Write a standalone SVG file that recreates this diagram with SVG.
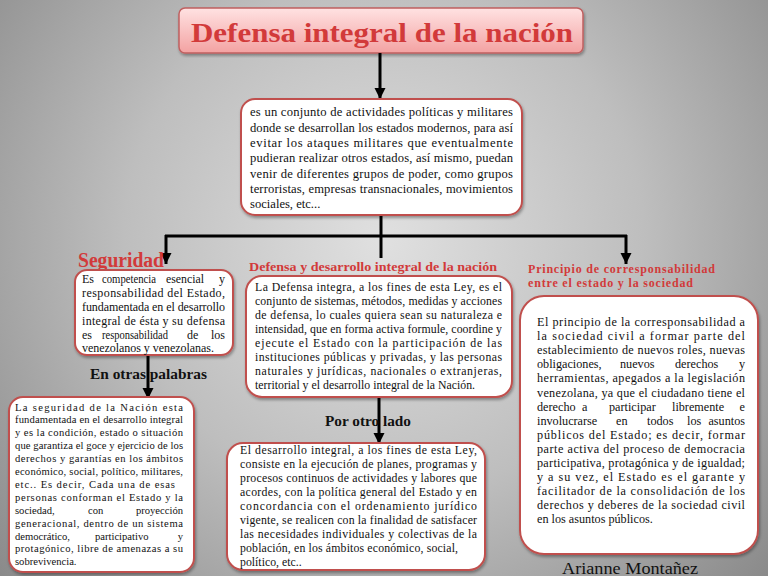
<svg xmlns="http://www.w3.org/2000/svg" width="768" height="576" viewBox="0 0 768 576">
<defs>
<radialGradient id="bg" cx="384" cy="240" r="520" gradientUnits="userSpaceOnUse">
<stop offset="0" stop-color="#e0e0e0"/>
<stop offset="0.5" stop-color="#bebebe"/>
<stop offset="1" stop-color="#888888"/>
</radialGradient>
<linearGradient id="tg" x1="0" y1="0" x2="0" y2="1">
<stop offset="0" stop-color="#ffe2e2"/>
<stop offset="1" stop-color="#f3a2a2"/>
</linearGradient>
<filter id="sh" x="-10%" y="-10%" width="120%" height="120%">
<feDropShadow dx="1" dy="2" stdDeviation="1.5" flood-color="#000" flood-opacity="0.35"/>
</filter>
<marker id="ah" markerUnits="userSpaceOnUse" markerWidth="12" markerHeight="12" viewBox="0 0 12 12" refX="11" refY="6" orient="auto">
<path d="M0,0.5 L11,6 L0,11.5 z" fill="#000"/>
</marker>
<style>
.box{fill:#fff;stroke:#c0504d;stroke-width:2;filter:url(#sh)}
.t{font-family:"Liberation Serif","Times New Roman",serif;fill:#111}
.lbl{font-family:"Liberation Serif","Times New Roman",serif;font-weight:bold;fill:#d23a3a}
.blk{font-family:"Liberation Serif","Times New Roman",serif;font-weight:bold;fill:#111}
.c{stroke:#000;stroke-width:3;fill:none}
</style>
</defs>
<rect width="768" height="576" fill="url(#bg)"/>

<g id="title">
<rect x="179" y="8" width="404" height="45" rx="6" fill="url(#tg)" stroke="#c06060" stroke-width="1.5" filter="url(#sh)"/>
<text class="lbl" x="191" y="42" font-size="28" textLength="382" lengthAdjust="spacingAndGlyphs" fill="#cc2b2b">Defensa integral de la nación</text>
</g>

<g id="connectors">
<line class="c" x1="380" y1="53" x2="380" y2="99" marker-end="url(#ah)"/>
<line class="c" x1="381" y1="215" x2="381" y2="258"/>
<line class="c" x1="165" y1="236" x2="627" y2="236"/>
<line class="c" x1="166" y1="235" x2="166" y2="264" marker-end="url(#ah)"/>
<line class="c" x1="626" y1="235" x2="626" y2="264" marker-end="url(#ah)"/>
<line class="c" x1="148" y1="355" x2="148" y2="399" marker-end="url(#ah)"/>
<line class="c" x1="379" y1="397" x2="379" y2="444" marker-end="url(#ah)"/>
</g>

<g id="definicion">
<rect class="box" x="241" y="99" width="281" height="116" rx="14"/>
<g class="t" font-size="12.6">
<text x="250" y="116" textLength="263" lengthAdjust="spacing">es un conjunto de actividades políticas y militares</text>
<text x="250" y="131.5" textLength="263" lengthAdjust="spacing">donde se desarrollan los estados modernos, para así</text>
<text x="250" y="147" textLength="263" lengthAdjust="spacing">evitar los ataques militares que eventualmente</text>
<text x="250" y="162" textLength="263" lengthAdjust="spacing">pudieran realizar otros estados, así mismo, puedan</text>
<text x="250" y="177.5" textLength="263" lengthAdjust="spacing">venir de diferentes grupos de poder, como grupos</text>
<text x="250" y="193" textLength="263" lengthAdjust="spacing">terroristas, empresas transnacionales, movimientos</text>
<text x="250" y="208">sociales, etc...</text>
</g>
</g>

<g id="seguridad">
<text class="lbl" x="78" y="267" font-size="20" textLength="86" lengthAdjust="spacingAndGlyphs">Seguridad</text>
<rect class="box" x="75" y="270" width="158" height="85" rx="12"/>
<g class="t" font-size="12">
<text x="82" y="283">Es</text><text x="102" y="283" textLength="54" lengthAdjust="spacingAndGlyphs">competencia</text><text x="166" y="283" textLength="38" lengthAdjust="spacingAndGlyphs">esencial</text><text x="225" y="283" text-anchor="end">y</text>
<text x="82" y="296.5" textLength="143" lengthAdjust="spacing">responsabilidad del Estado,</text>
<text x="82" y="310.5" textLength="143" lengthAdjust="spacing">fundamentada en el desarrollo</text>
<text x="82" y="324.5" textLength="143" lengthAdjust="spacing">integral de ésta y su defensa</text>
<text x="82" y="338.5">es</text><text x="102" y="338.5" textLength="66" lengthAdjust="spacingAndGlyphs">responsabilidad</text><text x="187" y="338.5">de</text><text x="225" y="338.5" text-anchor="end">los</text>
<text x="82" y="352" textLength="132" lengthAdjust="spacing">venezolanos y venezolanas.</text>
</g>
</g>

<g id="otras-palabras-label">
<text class="blk" x="90" y="379" font-size="15" textLength="117" lengthAdjust="spacingAndGlyphs">En otras palabras</text>
</g>

<g id="seguridad-detalle">
<rect class="box" x="9" y="397" width="185" height="175" rx="14"/>
<g class="t" font-size="10.6">
<text x="15" y="410.5" textLength="168" lengthAdjust="spacing">La seguridad de la Nación esta</text>
<text x="15" y="423.4" textLength="168" lengthAdjust="spacing">fundamentada en el desarrollo integral</text>
<text x="15" y="436.3" textLength="168" lengthAdjust="spacing">y es la condición, estado o situación</text>
<text x="15" y="449.2" textLength="168" lengthAdjust="spacing">que garantiza el goce y ejercicio de los</text>
<text x="15" y="462.1" textLength="168" lengthAdjust="spacing">derechos y garantías en los ámbitos</text>
<text x="15" y="475" textLength="168" lengthAdjust="spacing">económico, social, político, militares,</text>
<text x="15" y="487.9" textLength="160" lengthAdjust="spacing">etc.. Es decir, Cada una de esas</text>
<text x="15" y="500.8" textLength="168" lengthAdjust="spacing">personas  conforman el Estado y la</text>
<text x="15" y="513.7">sociedad,</text><text x="88" y="513.7">con</text><text x="183" y="513.7" text-anchor="end">proyección</text>
<text x="15" y="526.6" textLength="168" lengthAdjust="spacing">generacional, dentro de un sistema</text>
<text x="15" y="539.5">democrático,</text><text x="95" y="539.5">participativo</text><text x="183" y="539.5" text-anchor="end">y</text>
<text x="15" y="552.4" textLength="168" lengthAdjust="spacing">protagónico, libre de amenazas a su</text>
<text x="15" y="565.3">sobrevivencia.</text>
</g>
</g>

<g id="defensa-desarrollo">
<text class="lbl" x="249" y="271" font-size="12" textLength="248" lengthAdjust="spacingAndGlyphs">Defensa y desarrollo integral de la nación</text>
<rect class="box" x="246" y="276" width="266" height="121" rx="16"/>
<g class="t" font-size="11.8">
<text x="255" y="291" textLength="247" lengthAdjust="spacing">La Defensa integra, a los fines de esta Ley, es el</text>
<text x="255" y="305" textLength="247" lengthAdjust="spacing">conjunto de sistemas, métodos, medidas y acciones</text>
<text x="255" y="319" textLength="247" lengthAdjust="spacing">de defensa, lo cuales quiera sean su naturaleza e</text>
<text x="255" y="333" textLength="247" lengthAdjust="spacing">intensidad, que en forma activa formule, coordine y</text>
<text x="255" y="347" textLength="247" lengthAdjust="spacing">ejecute el Estado con la participación de las</text>
<text x="255" y="361" textLength="247" lengthAdjust="spacing">instituciones públicas y privadas, y las personas</text>
<text x="255" y="375" textLength="247" lengthAdjust="spacing">naturales y jurídicas, nacionales o extranjeras,</text>
<text x="255" y="389" textLength="220" lengthAdjust="spacing">territorial y el desarrollo integral de la Nación.</text>
</g>
</g>

<g id="otro-lado-label">
<text class="blk" x="325" y="426" font-size="15" textLength="86" lengthAdjust="spacingAndGlyphs">Por otro lado</text>
</g>

<g id="desarrollo-integral">
<rect class="box" x="227" y="443" width="258" height="127" rx="16"/>
<g class="t" font-size="11.8">
<text x="240" y="454" textLength="237" lengthAdjust="spacing">El desarrollo integral, a los fines de esta Ley,</text>
<text x="240" y="468" textLength="237" lengthAdjust="spacing">consiste en la ejecución de planes, programas  y</text>
<text x="240" y="482" textLength="237" lengthAdjust="spacing">procesos continuos de actividades y  labores que</text>
<text x="240" y="496" textLength="237" lengthAdjust="spacing">acordes, con la política general del Estado y en</text>
<text x="240" y="510" textLength="237" lengthAdjust="spacing">concordancia con el ordenamiento jurídico</text>
<text x="240" y="524" textLength="237" lengthAdjust="spacing">vigente, se realicen con la finalidad de satisfacer</text>
<text x="240" y="538" textLength="237" lengthAdjust="spacing">las necesidades individuales y colectivas de la</text>
<text x="240" y="552" textLength="218" lengthAdjust="spacing">población, en los ámbitos económico, social,</text>
<text x="240" y="566">político, etc..</text>
</g>
</g>

<g id="corresponsabilidad">
<text class="lbl" x="528" y="273" font-size="12" textLength="187" lengthAdjust="spacing">Principio de corresponsabilidad</text>
<text class="lbl" x="528" y="287" font-size="12" textLength="165" lengthAdjust="spacing">entre el estado y la sociedad</text>
<rect class="box" x="520" y="296" width="238" height="258" rx="24"/>
<g class="t" font-size="12.2">
<text x="537" y="326" textLength="208" lengthAdjust="spacing">El principio de la corresponsabilidad a</text>
<text x="537" y="340.1" textLength="208" lengthAdjust="spacing">la sociedad civil a formar parte del</text>
<text x="537" y="354.2" textLength="208" lengthAdjust="spacing">establecimiento de nuevos roles, nuevas</text>
<text x="537" y="368.3">obligaciones,</text><text x="620" y="368.3">nuevos</text><text x="675" y="368.3">derechos</text><text x="745" y="368.3" text-anchor="end">y</text>
<text x="537" y="382.4" textLength="208" lengthAdjust="spacing">herramientas, apegados a la legislación</text>
<text x="537" y="396.5" textLength="208" lengthAdjust="spacing">venezolana, ya que el ciudadano tiene el</text>
<text x="537" y="410.6">derecho</text><text x="582" y="410.6">a</text><text x="609" y="410.6">participar</text><text x="672" y="410.6">libremente</text><text x="745" y="410.6" text-anchor="end">e</text>
<text x="537" y="424.7">involucrarse</text><text x="616" y="424.7">en</text><text x="647" y="424.7">todos</text><text x="687" y="424.7">los</text><text x="745" y="424.7" text-anchor="end">asuntos</text>
<text x="537" y="438.8" textLength="208" lengthAdjust="spacing">públicos del Estado;  es decir, formar</text>
<text x="537" y="452.9" textLength="208" lengthAdjust="spacing">parte activa del proceso de democracia</text>
<text x="537" y="467" textLength="208" lengthAdjust="spacing">participativa, protagónica y de igualdad;</text>
<text x="537" y="481.1" textLength="208" lengthAdjust="spacing">y a su vez, el Estado es el garante y</text>
<text x="537" y="495.2" textLength="208" lengthAdjust="spacing">facilitador de la consolidación de los</text>
<text x="537" y="509.3" textLength="208" lengthAdjust="spacing">derechos y deberes de la sociedad civil</text>
<text x="537" y="523.4">en los asuntos públicos.</text>
</g>
</g>

<g id="autor">
<text class="t" x="562" y="574" font-size="16" textLength="136" lengthAdjust="spacingAndGlyphs" fill="#222">Arianne Montañez</text>
</g>
</svg>
